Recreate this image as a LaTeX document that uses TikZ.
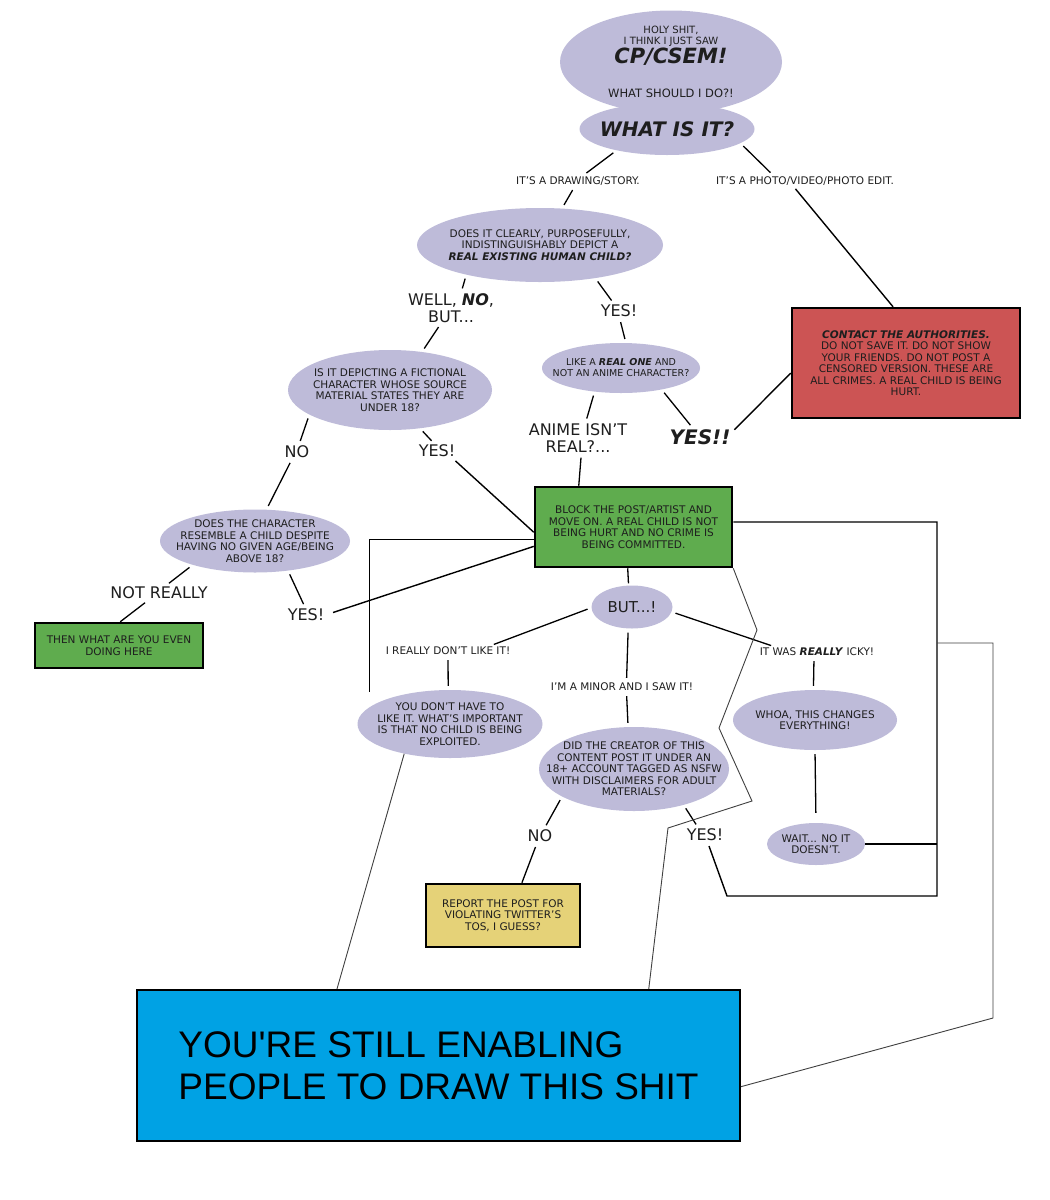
\documentclass[tikz,border=0pt]{standalone}
\usepackage{fontspec}
\setmainfont{DejaVu Sans}
\newfontfamily\plainfont{Liberation Sans}
\usetikzlibrary{shapes.geometric}

\definecolor{bubblefill}{RGB}{190,187,217}
\definecolor{okgreen}{RGB}{95,172,78}
\definecolor{alertred}{RGB}{204,84,84}
\definecolor{mehyellow}{RGB}{229,210,120}
\definecolor{rantblue}{RGB}{0,162,228}
\definecolor{ink}{RGB}{30,30,30}

\newcommand{\loud}[1]{\textbf{\textit{#1}}}

\begin{document}
\begin{tikzpicture}[
    x=1pt, y=-1pt,
    bubble/.style={ellipse, fill=bubblefill, inner xsep=-25pt, inner ysep=-6pt, align=center, text=ink, font=\fontsize{10.5}{11.5}\selectfont},
    tag/.style={inner sep=1pt, align=center, text=ink, font=\fontsize{10.5}{11.5}\selectfont},
    bigtag/.style={tag, font=\fontsize{16}{17}\selectfont},
    card/.style={rectangle, draw=black, line width=2.5pt, align=center, text=ink, font=\fontsize{10.5}{11.5}\selectfont},
    seg/.style={line width=1.3pt, shorten <=4pt, shorten >=4pt},
    wire/.style={line width=1.4pt},
    thinwire/.style={line width=0.9pt, black!75}
]

\fill[white] (0,0) rectangle (1050,1200);
\useasboundingbox (0,0) rectangle (1050,1200);

% Start
\node[bubble, minimum width=222, minimum height=103, font=\fontsize{10}{10.5}\selectfont] (holy) at (671,62) {
    HOLY SHIT,\\
    I THINK I JUST SAW\\[1pt]
    {\fontsize{21}{21}\selectfont\loud{CP/CSEM!}}\\[23pt]
    {\fontsize{11.5}{12}\selectfont WHAT SHOULD I DO?!}
};
\node[bubble, minimum width=175, minimum height=52, font=\fontsize{20}{20}\selectfont] (whatis) at (667,129) {\loud{WHAT IS IT?}};

\node[tag] (drawing) at (578,181) {IT'S A DRAWING/STORY.};
\node[tag] (photo) at (805,181) {IT'S A PHOTO/VIDEO/PHOTO EDIT.};

% Drawing branch
\node[bubble, minimum width=246, minimum height=74] (clearly) at (540,245) {
    DOES IT CLEARLY, PURPOSEFULLY,\\
    INDISTINGUISHABLY DEPICT A\\
    \loud{REAL EXISTING HUMAN CHILD?}
};
\node[bigtag] (wellno) at (451,308) {WELL, \loud{NO},\\BUT...};
\node[bigtag] (yes1) at (619,311) {YES!};
\node[bubble, minimum width=158, minimum height=50, font=\fontsize{9.5}{11}\selectfont] (realone) at (621,368) {
    LIKE A \loud{REAL ONE} AND\\
    NOT AN ANIME CHARACTER?
};
\node[bubble, minimum width=204, minimum height=80] (fictional) at (390,390) {
    IS IT DEPICTING A FICTIONAL\\
    CHARACTER WHOSE SOURCE\\
    MATERIAL STATES THEY ARE\\
    UNDER 18?
};
\node[bigtag] (anime) at (578,438) {ANIME ISN'T\\REAL?...};
\node[tag, font=\fontsize{20}{20}\selectfont] (yes2) at (700,437) {\loud{YES!!}};

% Photo branch
\node[card, fill=alertred, minimum width=228, minimum height=110] (authorities) at (906,363) {
    \loud{CONTACT THE AUTHORITIES.}\\
    DO NOT SAVE IT. DO NOT SHOW\\
    YOUR FRIENDS. DO NOT POST A\\
    CENSORED VERSION. THESE ARE\\
    ALL CRIMES. A REAL CHILD IS BEING\\
    HURT.
};

% Fictional characters
\node[bigtag] (no1) at (297,452) {NO};
\node[bigtag] (yes3) at (437,451) {YES!};
\node[card, fill=okgreen, minimum width=197, minimum height=80] (block) at (633.5,527) {
    BLOCK THE POST/ARTIST AND\\
    MOVE ON. A REAL CHILD IS NOT\\
    BEING HURT AND NO CRIME IS\\
    BEING COMMITTED.
};
\node[bubble, minimum width=190, minimum height=63] (resemble) at (255,541) {
    DOES THE CHARACTER\\
    RESEMBLE A CHILD DESPITE\\
    HAVING NO GIVEN AGE/BEING\\
    ABOVE 18?
};
\node[bigtag] (notreally) at (159,593) {NOT REALLY};
\node[bigtag] (yes4) at (306,615) {YES!};
\node[card, fill=okgreen, minimum width=168, minimum height=45] (nothere) at (119,645.5) {
    THEN WHAT ARE YOU EVEN\\
    DOING HERE
};

% Objections
\node[bubble, minimum width=81, minimum height=43, font=\fontsize{15}{15}\selectfont] (but) at (632,607) {BUT...!};
\node[tag] (dislike) at (448,651) {I REALLY DON'T LIKE IT!};
\node[tag] (minor) at (622,687) {I'M A MINOR AND I SAW IT!};
\node[tag] (icky) at (817,652) {IT WAS \loud{REALLY} ICKY!};
\node[bubble, minimum width=185, minimum height=68] (nochild) at (450,724) {
    YOU DON'T HAVE TO\\
    LIKE IT. WHAT'S IMPORTANT\\
    IS THAT NO CHILD IS BEING\\
    EXPLOITED.
};
\node[bubble, minimum width=190, minimum height=84] (creator) at (634,769) {
    DID THE CREATOR OF THIS\\
    CONTENT POST IT UNDER AN\\
    18+ ACCOUNT TAGGED AS NSFW\\
    WITH DISCLAIMERS FOR ADULT\\
    MATERIALS?
};
\node[bubble, minimum width=164, minimum height=60] (whoa) at (815,720) {WHOA, THIS CHANGES\\EVERYTHING!};
\node[bubble, minimum width=98, minimum height=42] (wait) at (816,844) {WAIT... NO IT\\DOESN'T.};
\node[bigtag] (no2) at (540,836) {NO};
\node[bigtag] (yes5) at (705,835) {YES!};
\node[card, fill=mehyellow, minimum width=154, minimum height=63] (report) at (503,915.5) {
    REPORT THE POST FOR\\
    VIOLATING TWITTER'S\\
    TOS, I GUESS?
};

% Blue box
\node[card, fill=rantblue, line width=2pt, minimum width=603, minimum height=151, inner xsep=10pt, align=left, text=black, font=\plainfont\fontsize{37}{42}\selectfont] (enabling) at (438.5,1065.5) {YOU'RE STILL ENABLING\\PEOPLE TO DRAW THIS SHIT};

\coordinate (railtop) at (937,522);
\coordinate (railbot) at (937,896);
\coordinate (branch) at (937,643);

% Short connectors
\draw[seg] (whatis.203) -- (drawing.47);
\draw[seg] (drawing.239) -- (clearly.59);
\draw[seg] (whatis.-11) -- (photo.170);
\draw[seg] (clearly.202) -- (wellno.57);
\draw[seg] (wellno.237) -- (fictional.50);
\draw[seg] (clearly.-31) -- (yes1.125);
\draw[seg] (yes1.275) -- (realone.79);
\draw[seg] (realone.222) -- (anime.64);
\draw[seg, shorten >=0pt] (anime.282) -- (block.143);
\draw[seg] (realone.-28) -- (yes2.129);
\draw[seg] (fictional.197) -- (no1.75);
\draw[seg] (no1.235) -- (resemble.70);
\draw[seg] (fictional.-52) -- (yes3.110);
\draw[seg] (resemble.201) -- (notreally.47);
\draw[seg, shorten >=0pt] (notreally.214) -- (nothere.87);
\draw[seg] (resemble.-42) -- (yes4.96);
\draw[seg, shorten <=0pt, shorten >=2pt] (block.262) -- (but.99);
\draw[seg] (but.181) -- (dislike.7);
\draw[seg] (dislike.south) -- (nochild.93);
\draw[seg] (but.260) -- (minor.49);
\draw[seg] (minor.-49) -- (creator.98);
\draw[seg] (but.-7) -- (icky.173);
\draw[seg] (icky.240) -- (whoa.93);
\draw[seg, shorten >=10pt] (whoa.south) -- (wait.north);
\draw[seg] (creator.201) -- (no2.60);
\draw[seg, shorten >=0pt] (no2.247) -- (report.60);
\draw[seg] (creator.-36) -- (yes5.133);

% Long connectors
\draw[wire, shorten <=3pt] (photo.206) -- (authorities.103);
\draw[wire, shorten <=4pt] (yes2.8) -- (authorities.185);
\draw[wire, shorten <=4pt] (yes3.-25) -- (block.183);
\draw[wire, shorten <=8pt] (yes4.east) -- (block.191);
\draw[wire, shorten >=15pt] (block.187) -| (nochild.168);
\draw[wire, shorten >=4pt] (block.east |- railtop) -- (railtop) -- (railbot) -- ++(-210,0) -- (yes5.290);
\draw[wire] (wait.east) -- (wait.east -| railtop);

% Lines to the blue box
\draw[thinwire] (branch) -- ++(56,0) -- ++(0,375) -- (enabling.-4);
\draw[thinwire] (block.south east) -- (757,630) -- (719,728) -- (752,801) -- (668,828) -- (enabling.20);
\draw[thinwire] (nochild.213) -- (enabling.143);

\end{tikzpicture}
\end{document}
